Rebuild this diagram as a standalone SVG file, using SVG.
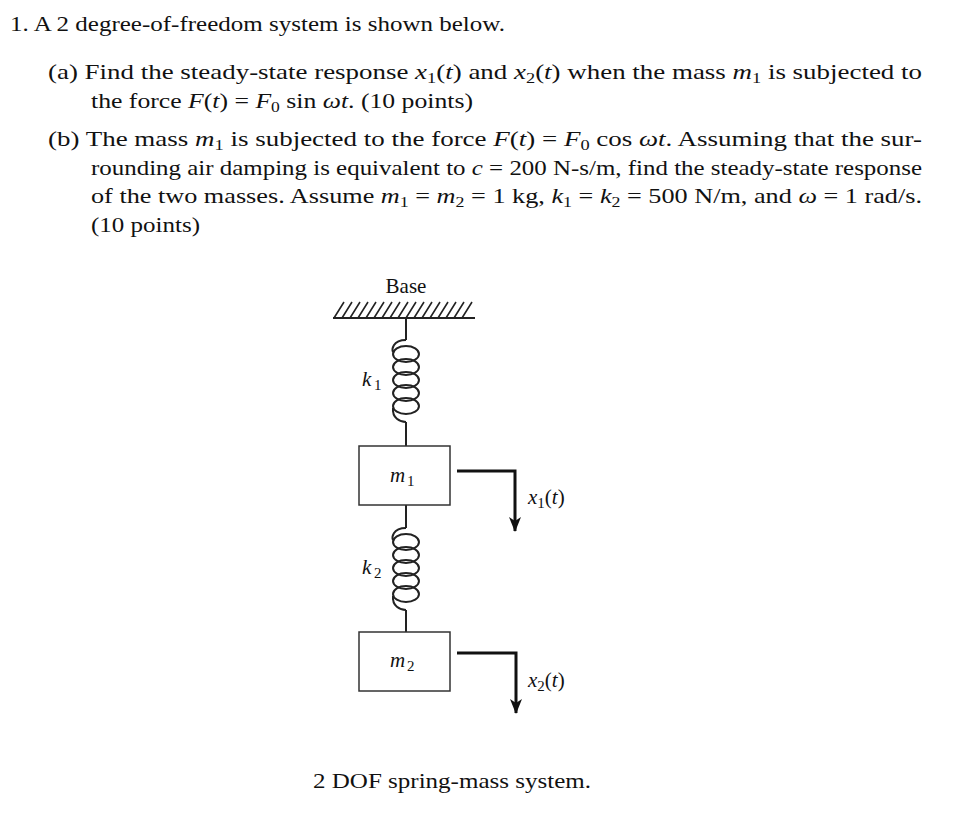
<svg xmlns="http://www.w3.org/2000/svg" width="974" height="819" viewBox="0 0 974 819">
<defs>
<style>
text{font-family:"Liberation Serif","DejaVu Serif",serif;fill:#111}
.t{font-size:22px}
.l{font-size:21px}
.ln{stroke:#222;stroke-width:2;fill:none}
.bx{stroke:#333;stroke-width:1.5;fill:#fff}
.ar{stroke:#111;stroke-width:3;fill:none}
.hh{stroke:#222;stroke-width:1.6}
</style>
<marker id="a" markerWidth="16" markerHeight="12" refX="14" refY="6" orient="auto" markerUnits="userSpaceOnUse"><path d="M0,0 L15,6 L0,12 L4,6 Z" fill="#111"/></marker>
<g id="coil">
<path class="ln" d="M0,0 C-14,0 -14,10 -13,12"/>
<ellipse cx="0" cy="14" rx="13" ry="8" class="ln"/>
<ellipse cx="0" cy="27" rx="13" ry="8" class="ln"/>
<ellipse cx="0" cy="40" rx="13" ry="8" class="ln"/>
<ellipse cx="0" cy="53" rx="13" ry="8" class="ln"/>
<ellipse cx="0" cy="66" rx="13" ry="8" class="ln"/>
<path class="ln" d="M-13,68 C-14,78 -6,82 0,82"/>
</g>
</defs>
<rect width="974" height="819" fill="#fff"/>
<text class="t" x="10" y="31" textLength="495" lengthAdjust="spacingAndGlyphs">1. A 2 degree-of-freedom system is shown below.</text>
<text class="t" x="48" y="79" textLength="874" lengthAdjust="spacingAndGlyphs">(a) Find the steady-state response <tspan font-style="italic">x</tspan><tspan font-size="15" dy="4">1</tspan><tspan dy="-4">(</tspan><tspan font-style="italic">t</tspan>) and <tspan font-style="italic">x</tspan><tspan font-size="15" dy="4">2</tspan><tspan dy="-4">(</tspan><tspan font-style="italic">t</tspan>) when the mass <tspan font-style="italic">m</tspan><tspan font-size="15" dy="4">1</tspan><tspan dy="-4"> is subjected to</tspan></text>
<text class="t" x="91" y="108" textLength="382" lengthAdjust="spacingAndGlyphs">the force <tspan font-style="italic">F</tspan>(<tspan font-style="italic">t</tspan>) = <tspan font-style="italic">F</tspan><tspan font-size="15" dy="4">0</tspan><tspan dy="-4"> sin </tspan><tspan font-style="italic">ωt</tspan>. (10 points)</text>
<text class="t" x="48" y="146" textLength="874" lengthAdjust="spacingAndGlyphs">(b) The mass <tspan font-style="italic">m</tspan><tspan font-size="15" dy="4">1</tspan><tspan dy="-4"> is subjected to the force </tspan><tspan font-style="italic">F</tspan>(<tspan font-style="italic">t</tspan>) = <tspan font-style="italic">F</tspan><tspan font-size="15" dy="4">0</tspan><tspan dy="-4"> cos </tspan><tspan font-style="italic">ωt</tspan>. Assuming that the sur-</text>
<text class="t" x="91" y="175" textLength="831" lengthAdjust="spacingAndGlyphs">rounding air damping is equivalent to <tspan font-style="italic">c</tspan> = 200 N-s/m, find the steady-state response</text>
<text class="t" x="91" y="203" textLength="831" lengthAdjust="spacingAndGlyphs">of the two masses. Assume <tspan font-style="italic">m</tspan><tspan font-size="15" dy="4">1</tspan><tspan dy="-4"> = </tspan><tspan font-style="italic">m</tspan><tspan font-size="15" dy="4">2</tspan><tspan dy="-4"> = 1 kg, </tspan><tspan font-style="italic">k</tspan><tspan font-size="15" dy="4">1</tspan><tspan dy="-4"> = </tspan><tspan font-style="italic">k</tspan><tspan font-size="15" dy="4">2</tspan><tspan dy="-4"> = 500 N/m, and </tspan><tspan font-style="italic">ω</tspan> = 1 rad/s.</text>
<text class="t" x="91" y="232" textLength="109" lengthAdjust="spacingAndGlyphs">(10 points)</text>

<g id="base">
<text class="l" x="406" y="293" text-anchor="middle">Base</text>
<path class="hh" d="M334,318 L344,302 M342,318 L352,302 M350,318 L360,302 M358,318 L368,302 M366,318 L376,302 M374,318 L384,302 M382,318 L392,302 M390,318 L400,302 M398,318 L408,302 M406,318 L416,302 M414,318 L424,302 M422,318 L432,302 M430,318 L440,302 M438,318 L448,302 M446,318 L456,302 M454,318 L464,302 M462,318 L472,302"/>
<line x1="333" y1="318" x2="475" y2="318" stroke="#222" stroke-width="2"/>
</g>
<g id="connectors">
<line class="ln" x1="406" y1="318" x2="406" y2="340"/>
<use href="#coil" x="406" y="340"/>
<line class="ln" x1="406" y1="422" x2="406" y2="446"/>
<line class="ln" x1="406" y1="505" x2="406" y2="528"/>
<use href="#coil" x="406" y="528"/>
<line class="ln" x1="406" y1="610" x2="406" y2="632"/>
<path class="ar" d="M457,471 H515 V531" marker-end="url(#a)"/>
<path class="ar" d="M457,653 H516 V713" marker-end="url(#a)"/>
</g>
<g id="k1"><text class="l" x="362" y="386" font-style="italic">k</text><text x="374" y="390" font-size="15">1</text></g>
<g id="k2"><text class="l" x="362" y="574" font-style="italic">k</text><text x="374" y="578" font-size="15">2</text></g>
<g id="m1"><rect class="bx" x="359" y="446" width="91" height="59"/><text class="l" x="390" y="482" font-style="italic">m</text><text x="407" y="486" font-size="15">1</text></g>
<g id="m2"><rect class="bx" x="359" y="632" width="91" height="59"/><text class="l" x="390" y="667" font-style="italic">m</text><text x="407" y="671" font-size="15">2</text></g>
<g id="x1"><text class="l" x="528" y="504"><tspan font-style="italic">x</tspan><tspan font-size="15" dy="4">1</tspan><tspan dy="-4">(</tspan><tspan font-style="italic">t</tspan>)</text></g>
<g id="x2"><text class="l" x="528" y="687"><tspan font-style="italic">x</tspan><tspan font-size="15" dy="4">2</tspan><tspan dy="-4">(</tspan><tspan font-style="italic">t</tspan>)</text></g>
<text class="t" x="313" y="788" textLength="278" lengthAdjust="spacingAndGlyphs">2 DOF spring-mass system.</text>
</svg>
